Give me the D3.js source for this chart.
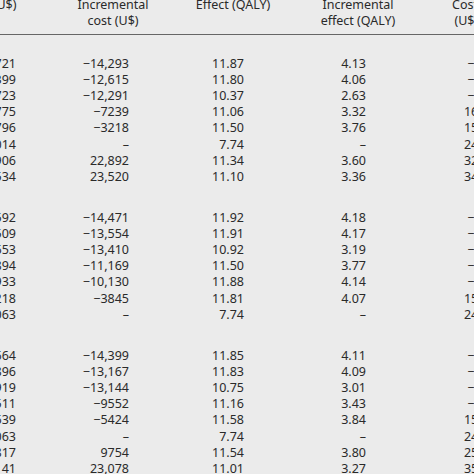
<!DOCTYPE html>
<html><head><meta charset="utf-8">
<script src="https://cdn.jsdelivr.net/npm/d3@7"></script>
<style>body{margin:0;background:#ebebeb;overflow:hidden}</style>
</head><body>
<script>
const headers1 = ["Cost (U$)", "Incremental", "Effect (QALY)", "Incremental", "Cost/effect"];
const headers2 = ["", "cost (U$)", "", "effect (QALY)", "(U$/QALY)"];
const sections = [
  {
    cost: ["172,721","174,399","174,723","179,775","183,796","187,014","209,906","210,534"],
    incCost: ["\u221214,293","\u221212,615","\u221212,291","\u22127239","\u22123218","\u2013","22,892","23,520"],
    effect: ["11.87","11.80","10.37","11.06","11.50","7.74","11.34","11.10"],
    incEffect: ["4.13","4.06","2.63","3.32","3.76","\u2013","3.60","3.36"],
    ratio: ["\u22123461","\u22123107","\u22124673","16,254","15,983","24,162","32,176","34,012"]
  },
  {
    cost: ["171,592","172,509","172,653","174,894","175,933","182,218","186,063"],
    incCost: ["\u221214,471","\u221213,554","\u221213,410","\u221211,169","\u221210,130","\u22123845","\u2013"],
    effect: ["11.92","11.91","10.92","11.50","11.88","11.81","7.74"],
    incEffect: ["4.18","4.17","3.19","3.77","4.14","4.07","\u2013"],
    ratio: ["\u22123462","\u22123250","\u22124204","\u22122963","\u22122447","15,430","24,039"]
  },
  {
    cost: ["171,664","172,896","172,919","176,511","180,639","186,063","195,817","209,141"],
    incCost: ["\u221214,399","\u221213,167","\u221213,144","\u22129552","\u22125424","\u2013","9754","23,078"],
    effect: ["11.85","11.83","10.75","11.16","11.58","7.74","11.54","11.01"],
    incEffect: ["4.11","4.09","3.01","3.43","3.84","\u2013","3.80","3.27"],
    ratio: ["\u22123503","\u22123219","\u22124367","\u22122785","15,598","24,039","25,667","35,292"]
  }
];
const W = 474, H = 474;
const svg = d3.select("body").append("svg").attr("width", W).attr("height", H);
svg.append("rect").attr("width", W).attr("height", H).attr("fill", "#ebebeb");
const font = "'Noto Sans', 'Open Sans', sans-serif";
const colEnd = [16, 129, 244, 366, 503];
const colMid = [-10, 113, 233, 358, 484];
const g = svg.append("g").attr("font-family", font).attr("font-size", 12.5).attr("fill", "#2a2a2a");
g.selectAll("text.h1").data(headers1).join("text").attr("x", (d,i)=>colMid[i]).attr("y", 9)
  .attr("text-anchor","middle").text(d=>d);
g.selectAll("text.h2").data(headers2).join("text").attr("x", (d,i)=>colMid[i]).attr("y", 25)
  .attr("text-anchor","middle").text(d=>d);
svg.append("line").attr("x1",0).attr("x2",W).attr("y1",34.5).attr("y2",34.5).attr("stroke","#666").attr("stroke-width",1.2);
const starts = [63, 217, 355];
const step = 16.2;
sections.forEach((s, si) => {
  const y = d3.scaleLinear().domain([0,1]).range([starts[si], starts[si]+step]);
  const cols = [s.cost, s.incCost, s.effect, s.incEffect, s.ratio];
  cols.forEach((arr, ci) => {
    g.append("g").selectAll("text").data(arr).join("text")
      .attr("x", colEnd[ci]).attr("y", (d,i)=>y(i)+4.5)
      .attr("text-anchor","end").text(d=>d);
  });
});
</script>
</body></html>
